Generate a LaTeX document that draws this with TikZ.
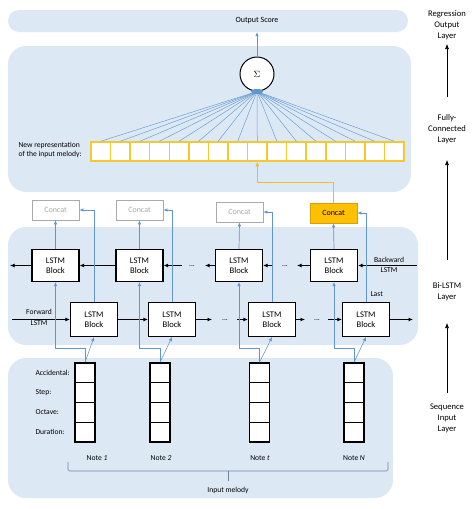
\documentclass[tikz,border=0pt]{standalone}
\usepackage{fontspec}
\setmainfont{Carlito}
\usetikzlibrary{arrows.meta,calc}
\definecolor{panel}{RGB}{221,232,245}
\definecolor{lblue}{RGB}{95,150,205}
\definecolor{fanblue}{RGB}{110,160,212}
\definecolor{gold}{RGB}{255,192,0}
\definecolor{golddark}{RGB}{215,160,0}
\definecolor{vecy}{RGB}{245,200,50}
\definecolor{yline}{RGB}{240,190,30}
\definecolor{cgray}{RGB}{170,170,170}
\definecolor{bracec}{RGB}{110,130,160}
\begin{document}
\begin{tikzpicture}[x=1pt,y=-1pt,
  font=\fontsize{7.6}{9}\selectfont,
  panelbox/.style={fill=panel, rounded corners=18pt},
  lstm/.style={draw=black, line width=1.1pt, fill=white, minimum width=47pt, minimum height=32pt, align=center, inner sep=0pt, font=\fontsize{8.6}{10.5}\selectfont},
  concatg/.style={draw=cgray, line width=0.8pt, fill=white, text=cgray, minimum width=47pt, minimum height=20pt, inner sep=0pt, font=\fontsize{8}{9}\selectfont},
  concato/.style={draw=golddark, line width=0.8pt, fill=gold, text=black, minimum width=47pt, minimum height=20pt, inner sep=0pt, font=\fontsize{8}{9}\selectfont},
  incell/.style={draw=black, line width=1.3pt, fill=white, minimum width=20pt, minimum height=19.75pt, inner sep=0pt},
  vcell/.style={draw=vecy, line width=1.5pt, fill=white, minimum width=19.56pt, minimum height=19pt, inner sep=0pt},
  karrow/.style={-{Latex[length=4.5pt,width=4pt]}, line width=0.9pt},
  barrow/.style={-{Latex[length=4pt,width=3.5pt]}, draw=lblue, line width=0.7pt},
  sidelabel/.style={align=center, font=\fontsize{8.6}{11}\selectfont},
  sidearrow/.style={-{Latex[length=5pt,width=4pt]}, line width=0.6pt}
]
\useasboundingbox (0,0) rectangle (474,509);
% panels
\fill[panel, rounded corners=11pt] (8,10) rectangle (408,32);
\fill[panelbox] (8,46) rectangle (411,192);
\fill[panelbox] (8,227) rectangle (418,345);
\fill[panelbox] (8,358) rectangle (393,498);

% output
\node[minimum height=22pt, inner sep=0pt, font=\fontsize{8}{9}\selectfont] (out) at (257,21) {Output Score};

% representation vector
\foreach \i in {1,...,16} {
  \node[vcell] (v\i) at ({91+19.5625*(\i-0.5)},151.5) {};
}
\node[anchor=west, align=left, font=\fontsize{7.6}{8.6}\selectfont] (newrep) at (15,150) {New representation\\of the input melody:};

\node[circle, draw, line width=1pt, fill=white, minimum size=34pt, inner sep=0pt] (sig) at (257,74) {\fontsize{9.5}{10}\selectfont$\Sigma$};
\foreach \i in {1,...,16} {
  \draw[fanblue, line width=0.5pt] (v\i.north) -- (sig.south);
}
\fill[lblue] (sig.south) ellipse (6pt and 2.5pt);
\draw[barrow] (sig.north) -- (out.south);

% LSTM blocks
\node[lstm] (b1) at (55.5,265.5) {LSTM\\Block};
\node[lstm] (b2) at (139.5,265.5) {LSTM\\Block};
\node[lstm] (b3) at (239,265.5) {LSTM\\Block};
\node[lstm] (b4) at (334,265.5) {LSTM\\Block};
\node[lstm, minimum height=34pt] (f1) at (94,319.5) {LSTM\\Block};
\node[lstm, minimum height=34pt] (f2) at (172,319.5) {LSTM\\Block};
\node[lstm, minimum height=34pt] (f3) at (272,319.5) {LSTM\\Block};
\node[lstm, minimum height=34pt] (f4) at (366,319.5) {LSTM\\Block};

% concat
\node[concatg] (c1) at (55.5,210) {Concat};
\node[concatg] (c2) at (139.5,210) {Concat};
\node[concatg] (c3) at (239.5,212) {Concat};
\node[concato] (c4) at (333.5,213) {Concat};

% backward chain
\node (bd1) at (192,266) {...};
\node (bd2) at (285,266) {...};
\node[align=center] (bl) at (389,265) {Backward\\[1.5pt]LSTM};
\coordinate (bend) at (10,265.5);
\coordinate (bs2) at (182,265.5);
\coordinate (be3) at (205,265.5);
\coordinate (bs3) at (272,265.5);
\coordinate (be4) at (297,265.5);
\coordinate (bstart) at (417,265.5);
\draw[karrow] (b1.west) -- (bend);
\draw[karrow] (b2.west) -- (b1.east);
\draw[karrow] (bs2) -- (b2.east);
\draw[karrow] (b3.west) -- (be3);
\draw[karrow] (bs3) -- (b3.east);
\draw[karrow] (b4.west) -- (be4);
\draw[karrow] (bstart) -- (b4.east);

% forward chain
\node (fd1) at (225,320) {...};
\node (fd2) at (317,320) {...};
\node[align=center] (fl) at (39,317.5) {Forward\\[1.5pt]LSTM};
\coordinate (fstart) at (12,319.5);
\coordinate (fe2) at (212,319.5);
\coordinate (fs3) at (237,319.5);
\coordinate (fe3) at (305,319.5);
\coordinate (fs4) at (328,319.5);
\coordinate (fend) at (413,319.5);
\draw[karrow] (fstart) -- (f1.west);
\draw[karrow] (f1.east) -- (f2.west);
\draw[karrow] (f2.east) -- (fe2);
\draw[karrow] (fs3) -- (f3.west);
\draw[karrow] (f3.east) -- (fe3);
\draw[karrow] (fs4) -- (f4.west);
\draw[karrow] (f4.east) -- (fend);

\node[anchor=west] (last) at (367,294) {Last};

% concat connections
\foreach \k in {1,...,4} {
  \draw[barrow] (b\k.north) -- (c\k.south);
  \draw[barrow] (f\k.north) |- (c\k.east);
}
\coordinate (ybend) at (333.5,182);
\draw[color=yline, line width=0.9pt, -{Latex[length=4.5pt,width=4pt]}] (c4.north) -- (ybend) -| (v9.south);

% input notes
\foreach \k/\xx in {1/85,2/160,3/259.5,4/354} {
  \foreach \j in {1,...,4} {
    \node[incell] (in\k\j) at (\xx,{363+19.75*(\j-0.5)}) {};
  }
}
\foreach \k in {1,...,4} {
  \draw[barrow] (in\k1.north) -- ++(0,-14) -| (b\k.south);
  \draw[barrow, line width=0.55pt] (in\k1.north) -- (f\k.south);
}
\node[anchor=west] (lacc) at (32,373) {Accidental:};
\node[anchor=west] (lstep) at (32,393) {Step:};
\node[anchor=west] (loct) at (32,412) {Octave:};
\node[anchor=west] (ldur) at (32,431.5) {Duration:};

\node (n1) at (97,458) {Note \textit{1}};
\node (n2) at (161,458) {Note \textit{2}};
\node (n3) at (260,458) {Note \textit{t}};
\node (n4) at (354,458) {Note \textit{N}};

\draw[bracec, line width=0.6pt, rounded corners=1.5pt] (68,462) -- (68,471) -- (388,471) -- (388,462);
\draw[bracec, line width=0.6pt] (228,471) -- (228,481);
\node (melody) at (228,490) {Input melody};

% right side labels
\node[sidelabel] (r1) at (447,25) {Regression\\Output\\Layer};
\node[sidelabel] (r2) at (447,129) {Fully-\\Connected\\Layer};
\node[sidelabel] (r3) at (447,292) {Bi-LSTM\\Layer};
\node[sidelabel] (r4) at (447,418) {Sequence\\Input\\Layer};
\coordinate (a1s) at (447,97);
\coordinate (a1e) at (447,44);
\coordinate (a2s) at (447,260);
\coordinate (a2e) at (447,160);
\coordinate (a3s) at (447,393);
\coordinate (a3e) at (447,323);
\draw[sidearrow] (a1s) -- (a1e);
\draw[sidearrow] (a2s) -- (a2e);
\draw[sidearrow] (a3s) -- (a3e);
\end{tikzpicture}
\end{document}
